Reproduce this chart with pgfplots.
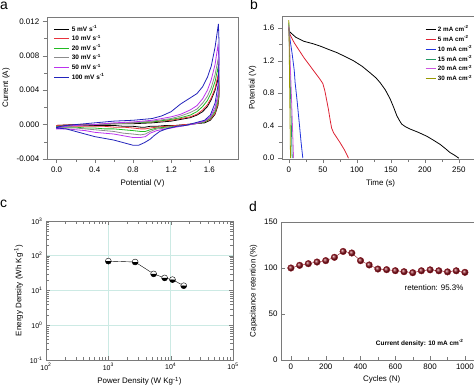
\documentclass[border=0pt]{standalone}
\usepackage{fontspec}
\setmainfont{Liberation Sans}
\usepackage{pgfplots}
\pgfplotsset{compat=1.18}
\usetikzlibrary{plotmarks}
\definecolor{framegray}{HTML}{7A7A7A}
\definecolor{cvred}{HTML}{E8323C}
\definecolor{cvgreen}{HTML}{22BB22}
\definecolor{cvgrey}{HTML}{8C8C8C}
\definecolor{cvpurple}{HTML}{BB33EE}
\definecolor{cvblue}{HTML}{2222BB}
\definecolor{gred}{HTML}{DD2233}
\definecolor{gblue}{HTML}{2233DD}
\definecolor{ggreen}{HTML}{229966}
\definecolor{gmag}{HTML}{CC55DD}
\definecolor{golive}{HTML}{999900}
\definecolor{gridc}{HTML}{CCEAE4}
\definecolor{ballred}{HTML}{8B1520}
\begin{document}
\begin{tikzpicture}
\useasboundingbox (0bp,0bp) rectangle (474bp,392bp);
\clip (0bp,0bp) rectangle (474bp,392bp);
\pgfplotsset{
  every axis/.append style={
    scale only axis,
    font=\fontsize{8}{9}\selectfont,
    axis line style={draw=framegray},
    tick style={draw=framegray},
    /pgf/number format/assume math mode=true,
    /pgf/number format/set thousands separator={},
    scaled ticks=false,
    label style={font=\fontsize{8}{9}\selectfont},
  },
}
% ---------- panel a ----------
\begin{axis}[at={(47bp,233bp)}, anchor=south west, width=191bp, height=142bp,
  xmin=-0.1, xmax=1.9, ymin=-0.004, ymax=0.0125,
  xtick={0,0.4,0.8,1.2,1.6}, ytick={-0.004,0,0.004,0.008,0.012},
  xticklabel style={/pgf/number format/.cd, fixed, fixed zerofill, precision=1},
  yticklabel style={/pgf/number format/.cd, fixed, fixed zerofill, precision=3},
  minor x tick num=1, minor y tick num=1,
  tick align=outside, xtick pos=bottom, ytick pos=left,
  xlabel={Potential (V)}, ylabel={Current (A)},
  legend style={at={(0.02,0.97)}, anchor=north west, draw=none, fill=none,
    font=\fontsize{6.5}{7}\selectfont\bfseries, row sep=-1.5pt},
  legend cell align=left,
  legend image code/.code={\draw[#1] (0bp,0bp) -- (15bp,0bp);},
]
\addplot[black, thick] coordinates {(0.00,-0.0001) (0.20,0.0000) (0.40,0.0000) (0.60,0.0001) (0.80,0.0001) (1.00,0.0002) (1.20,0.0004) (1.30,0.0006) (1.40,0.0008) (1.47,0.0011) (1.53,0.0015) (1.58,0.0021) (1.62,0.0029) (1.66,0.0040) (1.69,0.0053)
 (1.70,0.0045) (1.70,0.0032) (1.69,0.0022) (1.66,0.0012) (1.61,0.0005) (1.55,0.0002) (1.45,0.0001) (1.35,0.0000) (1.25,-0.0001) (1.15,-0.0001) (1.05,-0.0002) (0.98,-0.0002) (0.93,-0.0003) (0.88,-0.0003) (0.80,-0.0002) (0.70,-0.0002) (0.60,-0.0001) (0.50,-0.0001) (0.40,-0.0001) (0.30,-0.0001) (0.20,-0.0001) (0.10,-0.0001) (0.00,-0.0001)};
\addlegendentry{5 mV s\textsuperscript{-1}}
\addplot[cvred, thick] coordinates {(0.00,-0.0001) (0.20,0.0000) (0.40,0.0000) (0.60,0.0001) (0.80,0.0002) (1.00,0.0003) (1.20,0.0005) (1.30,0.0007) (1.40,0.0009) (1.47,0.0012) (1.53,0.0017) (1.58,0.0023) (1.62,0.0031) (1.66,0.0042) (1.69,0.0057)
 (1.70,0.0048) (1.70,0.0035) (1.69,0.0024) (1.66,0.0013) (1.61,0.0006) (1.55,0.0003) (1.45,0.0001) (1.35,0.0000) (1.25,-0.0001) (1.15,-0.0002) (1.05,-0.0003) (0.98,-0.0004) (0.93,-0.0005) (0.88,-0.0005) (0.80,-0.0004) (0.70,-0.0003) (0.60,-0.0003) (0.50,-0.0002) (0.40,-0.0002) (0.30,-0.0002) (0.20,-0.0002) (0.10,-0.0002) (0.00,-0.0002) (0.00,-0.0001)};
\addlegendentry{10 mV s\textsuperscript{-1}}
\addplot[cvgreen, thick] coordinates {(0.00,-0.0002) (0.20,-0.0001) (0.40,0.0000) (0.60,0.0001) (0.80,0.0002) (1.00,0.0003) (1.20,0.0006) (1.30,0.0008) (1.40,0.0011) (1.47,0.0015) (1.53,0.0021) (1.58,0.0028) (1.62,0.0037) (1.66,0.0050) (1.69,0.0066)
 (1.70,0.0055) (1.70,0.0040) (1.69,0.0027) (1.66,0.0015) (1.61,0.0007) (1.55,0.0003) (1.45,0.0001) (1.35,-0.0001) (1.25,-0.0002) (1.15,-0.0003) (1.05,-0.0004) (0.98,-0.0006) (0.93,-0.0008) (0.88,-0.0008) (0.80,-0.0007) (0.70,-0.0006) (0.60,-0.0005) (0.50,-0.0005) (0.40,-0.0004) (0.30,-0.0004) (0.20,-0.0003) (0.10,-0.0003) (0.00,-0.0003) (0.00,-0.0002)};
\addlegendentry{20 mV s\textsuperscript{-1}}
\addplot[cvgrey, thick] coordinates {(0.00,-0.0003) (0.20,-0.0001) (0.40,0.0000) (0.60,0.0001) (0.80,0.0002) (1.00,0.0004) (1.20,0.0007) (1.30,0.0010) (1.40,0.0014) (1.47,0.0018) (1.53,0.0025) (1.58,0.0033) (1.62,0.0043) (1.66,0.0058) (1.69,0.0075)
 (1.70,0.0063) (1.70,0.0045) (1.69,0.0030) (1.66,0.0017) (1.61,0.0008) (1.55,0.0004) (1.45,0.0001) (1.35,-0.0001) (1.25,-0.0002) (1.15,-0.0004) (1.05,-0.0005) (0.98,-0.0008) (0.93,-0.0011) (0.88,-0.0012) (0.80,-0.0011) (0.70,-0.0010) (0.60,-0.0008) (0.50,-0.0007) (0.40,-0.0006) (0.30,-0.0005) (0.20,-0.0004) (0.10,-0.0004) (0.00,-0.0004) (0.00,-0.0003)};
\addlegendentry{30 mV s\textsuperscript{-1}}
\addplot[cvpurple, thick] coordinates {(0.00,-0.0004) (0.10,-0.0002) (0.20,-0.0001) (0.40,0.0000) (0.60,0.0002) (0.80,0.0003) (1.00,0.0005) (1.10,0.0007) (1.20,0.0009) (1.30,0.0012) (1.40,0.0017) (1.47,0.0022) (1.53,0.0030) (1.58,0.0040) (1.62,0.0052) (1.66,0.0070) (1.69,0.0092)
 (1.70,0.0078) (1.70,0.0055) (1.69,0.0035) (1.66,0.0020) (1.61,0.0009) (1.55,0.0004) (1.45,0.0001) (1.35,-0.0001) (1.25,-0.0003) (1.15,-0.0005) (1.05,-0.0007) (0.98,-0.0010) (0.93,-0.0014) (0.88,-0.0015) (0.80,-0.0015) (0.70,-0.0013) (0.60,-0.0011) (0.50,-0.0010) (0.40,-0.0009) (0.30,-0.0007) (0.20,-0.0006) (0.10,-0.0005) (0.00,-0.0005) (0.00,-0.0004)};
\addlegendentry{50 mV s\textsuperscript{-1}}
\addplot[cvblue, thick] coordinates {(0.00,-0.0003) (0.10,-0.0001) (0.20,0.0000) (0.40,0.0002) (0.60,0.0004) (0.80,0.0005) (1.00,0.0007) (1.10,0.0010) (1.20,0.0015) (1.30,0.0024) (1.40,0.0031) (1.47,0.0036) (1.53,0.0044) (1.58,0.0055) (1.62,0.0068) (1.66,0.0090) (1.695,0.0117)
 (1.70,0.0100) (1.70,0.0070) (1.69,0.0045) (1.66,0.0025) (1.61,0.0011) (1.55,0.0005) (1.45,0.0002) (1.35,-0.0001) (1.26,-0.0002) (1.15,-0.0005) (1.08,-0.0008) (1.02,-0.0013) (0.98,-0.0017) (0.92,-0.0021) (0.86,-0.0024) (0.80,-0.0024) (0.70,-0.0021) (0.60,-0.0018) (0.50,-0.0016) (0.40,-0.0014) (0.30,-0.0011) (0.20,-0.0008) (0.10,-0.0005) (0.00,-0.0004) (0.00,-0.0003)};
\addlegendentry{100 mV s\textsuperscript{-1}}
\end{axis}
% ---------- panel b ----------
\begin{axis}[at={(282bp,233bp)}, anchor=south west, width=197.2bp, height=143bp,
  xmin=-10, xmax=280, ymin=-0.01, ymax=1.75,
  xtick={0,50,100,150,200,250}, ytick={0,0.4,0.8,1.2,1.6},
  yticklabel style={/pgf/number format/.cd, fixed, fixed zerofill, precision=1},
  minor x tick num=1, minor y tick num=1,
  tick align=outside, xtick pos=bottom, ytick pos=left,
  xlabel={Time (s)}, ylabel={Potential (V)},
  legend style={at={(0.99,0.96)}, anchor=north east, draw=none, fill=none,
    font=\fontsize{6.3}{7}\selectfont\bfseries, row sep=-1.2pt},
  legend cell align=left,
  legend image code/.code={\draw[#1] (0bp,0bp) -- (10bp,0bp);},
]
\addplot[black, thick] coordinates {(0,1.60) (1,1.56) (2,1.55) (10,1.49) (21.6,1.44) (35,1.41) (46,1.38) (58,1.34) (70.6,1.30) (83,1.25) (95,1.20) (108,1.13) (119.6,1.05) (128,0.99) (134.3,0.93) (142,0.84) (149,0.73) (154,0.63) (159,0.52) (163,0.46) (166,0.42) (171,0.39) (178,0.36) (190,0.32) (203,0.27) (213,0.22) (222.5,0.17) (230,0.12) (237,0.07) (244,0.035) (250,0.0)};
\addlegendentry{2 mA cm\textsuperscript{-2}}
\addplot[gred, thick] coordinates {(0,1.60) (1,1.54) (3,1.50) (8,1.42) (15,1.33) (22,1.24) (30,1.15) (38,1.06) (46,0.97) (50,0.92) (53,0.83) (56,0.70) (58.3,0.60) (61,0.46) (63,0.37) (66,0.31) (70,0.26) (75.5,0.19) (82,0.10) (87.8,0.0)};
\addlegendentry{5 mA cm\textsuperscript{-2}}
\addplot[gblue, thick] coordinates {(0,1.62) (0.5,1.57) (2,1.45) (5,1.28) (8,1.08) (9.3,0.93) (11,0.80) (12.5,0.68) (14,0.55) (16,0.38) (18,0.20) (20.6,0.0)};
\addlegendentry{10 mA cm\textsuperscript{-2}}
\addplot[ggreen, thick] coordinates {(0,1.66) (0.3,1.58) (2.5,0.80) (5,0.0)};
\addlegendentry{15 mA cm\textsuperscript{-2}}
\addplot[gmag, thick] coordinates {(0,1.63) (0.3,1.55) (3.5,0.85) (7,0.0)};
\addlegendentry{20 mA cm\textsuperscript{-2}}
\addplot[golive, thick] coordinates {(0,1.70) (0.3,1.60) (1.2,0.90) (2.5,0.0)};
\addlegendentry{30 mA cm\textsuperscript{-2}}
\end{axis}
% ---------- panel c ----------
\begin{axis}[at={(46bp,32bp)}, anchor=south west, width=187bp, height=139bp,
  xmode=log, ymode=log, xmin=100, xmax=100000, ymin=0.1, ymax=1000,
  xtick={100,1000,10000,100000}, xticklabels={10\textsuperscript{2},10\textsuperscript{3},10\textsuperscript{4},10\textsuperscript{5}},
  ytick={0.1,1,10,100,1000}, yticklabels={10\textsuperscript{-1},10\textsuperscript{0},10\textsuperscript{1},10\textsuperscript{2},10\textsuperscript{3}},
  ticklabel style={font=\fontsize{7}{8}\selectfont},
  tick align=inside,
  grid=major, major grid style={draw=gridc, line width=0.6pt},
  xlabel={Power Density (W Kg\textsuperscript{-1})}, ylabel={Energy Density (Wh Kg\textsuperscript{-1})},
]
\addplot[black, thin, mark=halfcircle*, mark size=3pt, mark options={draw=black, fill=white, mark color=black}] coordinates {(1000,70) (2690,66) (5330,30) (8000,23) (10700,20.5) (16200,13.7)};
\end{axis}
% ---------- panel d ----------
\begin{axis}[at={(281bp,32bp)}, anchor=south west, width=201.3bp, height=138bp,
  xmin=-57, xmax=1100, ymin=0, ymax=150,
  xtick={0,200,400,600,800,1000}, ytick={0,50,100,150},
  minor x tick num=1,
  tick align=inside, xtick pos=bottom, ytick pos=left,
  xlabel={Cycles (N)}, ylabel={Capacitance retention (\%)},
]
\addplot[ballred, thin, mark=ball, mark size=3.3pt, mark options={ball color=ballred}] coordinates {(0,100) (50,102.9) (100,104.7) (150,106.5) (200,108) (250,111.6) (300,118) (350,116.3) (400,108) (450,103.3) (500,98.9) (550,98.2) (600,97.1) (650,96) (700,94.9) (750,97) (800,98) (850,97) (900,95.8) (950,97) (1000,95.3)};
\node[anchor=east, font=\fontsize{8}{9}\selectfont] at (axis cs:1012,79) {retention: 95.3\%};
\node[anchor=east, font=\fontsize{6.5}{7}\selectfont\bfseries] at (axis cs:1012,18.5) {Current density: 10 mA cm\textsuperscript{-2}};
\end{axis}
% ---------- panel letters ----------
\node[anchor=base west, inner sep=0, font=\fontsize{14}{14}\selectfont] at (0bp,382bp) {a};
\node[anchor=base west, inner sep=0, font=\fontsize{14}{14}\selectfont] at (250bp,382bp) {b};
\node[anchor=base west, inner sep=0, font=\fontsize{14}{14}\selectfont] at (0bp,184bp) {c};
\node[anchor=base west, inner sep=0, font=\fontsize{14}{14}\selectfont] at (249bp,180bp) {d};
\end{tikzpicture}
\end{document}
